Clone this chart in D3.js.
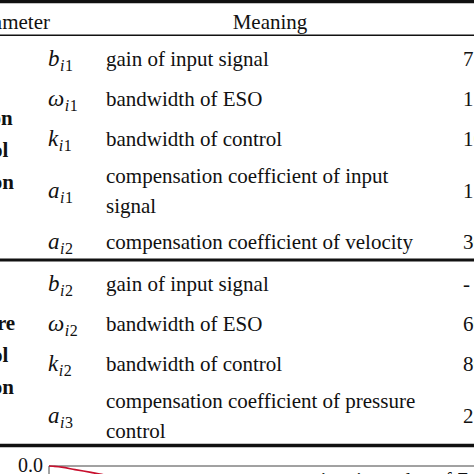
<!doctype html>
<html>
  <head>
    <script src="https://cdn.jsdelivr.net/npm/d3@7"></script>
    <style>
      body { margin: 0; background: #fff; }
      svg { display: block; font-family: 'Liberation Serif', 'Times New Roman', serif; }
    </style>
  </head>
  <body>
    <svg id="table" width="474" height="474" viewBox="0 0 474 474"></svg>

    <script>
      // table content
      var headers = ["Parameter", "Meaning"];
      var groupLabels = [["Position", "control", "function"], ["Pressure", "control", "function"]];
      var groupOf = [0, 0, 0, 0, 0, 1, 1, 1, 1];
      var symbols = ["b", "ω", "k", "a", "a", "b", "ω", "k", "a"];
      var subIndex = ["1", "1", "1", "1", "2", "2", "2", "2", "3"];
      var meanings = [
        ["gain of input signal"],
        ["bandwidth of ESO"],
        ["bandwidth of control"],
        ["compensation coefficient of input", "signal"],
        ["compensation coefficient of velocity"],
        ["gain of input signal"],
        ["bandwidth of ESO"],
        ["bandwidth of control"],
        ["compensation coefficient of pressure", "control"]
      ];
      var values = ["7.5", "150", "10", "1.2", "30", "-", "600", "80", "25"];

      // start of the next figure (cut by the crop)
      var curveT = [0, 0.1, 0.3, 0.62, 1.0, 1.21, 1.6];
      var curveZ = [0, -0.004, -0.014, -0.045, -0.08, -0.1, -0.15];

      var svg = d3.select("#table");
      var font = "'Liberation Serif', 'Times New Roman', serif";
      var ink = "#111";

      // vertical layout: rows in units of one single-line row
      var unit = d3.scaleLinear().domain([0, 1]).range([0, 40]);
      var groupTop = [36, 261];
      var rowUnits = meanings.map(m => m.length > 1 ? 1.575 : 1);
      var rowTop = [];
      var cursor = [groupTop[0], groupTop[1]];
      rowUnits.forEach(function(u, i) {
        var g = groupOf[i];
        rowTop.push(cursor[g]);
        cursor[g] += unit(u);
      });
      var rowMid = rowTop.map((t, i) => t + unit(rowUnits[i]) / 2);

      var x = d3.scaleOrdinal()
        .domain(["group", "param", "symbol", "meaning", "value"])
        .range([-23.5, 50, 48, 106, 463]);

      // rules
      var rules = [
        { y: 1.5, w: 3.5 },
        { y: 35.25, w: 1.5 },
        { y: 260, w: 3 },
        { y: 445.5, w: 3.5 }
      ];
      svg.append("g").selectAll("line")
        .data(rules)
        .enter()
        .append("line")
        .attr("x1", 0).attr("x2", 474)
        .attr("y1", d => d.y).attr("y2", d => d.y)
        .attr("stroke", ink)
        .attr("stroke-width", d => d.w);

      // header
      svg.append("text")
        .attr("x", x("param")).attr("y", 29)
        .attr("text-anchor", "end")
        .attr("font-family", font).attr("font-size", 21).attr("fill", ink)
        .text(headers[0]);
      svg.append("text")
        .attr("x", 270).attr("y", 29)
        .attr("text-anchor", "middle")
        .attr("font-family", font).attr("font-size", 21).attr("fill", ink)
        .text(headers[1]);

      // group labels (bold, mostly cut off on the left)
      var groupMid = [(groupTop[0] + 259) / 2, (groupTop[1] + 444) / 2];
      groupLabels.forEach(function(lines, g) {
        svg.append("g").selectAll("text")
          .data(lines)
          .enter()
          .append("text")
          .attr("x", x("group"))
          .attr("y", (d, j) => groupMid[g] + 9.5 + (j - 1) * 32)
          .attr("text-anchor", "middle")
          .attr("font-family", font).attr("font-size", 21)
          .attr("font-weight", "bold").attr("fill", ink)
          .text(d => d);
      });

      // symbols: italic letter, italic i and upright digit as subscript
      var sym = svg.append("g").selectAll("text")
        .data(symbols)
        .enter()
        .append("text")
        .attr("x", x("symbol"))
        .attr("y", (d, i) => rowMid[i] + 10)
        .attr("font-family", font).attr("font-size", 23)
        .attr("fill", ink);
      sym.append("tspan").attr("font-style", "italic").text(d => d);
      sym.append("tspan")
        .attr("dy", 5)
        .attr("dx", 0.5)
        .attr("font-size", 16)
        .attr("font-style", "italic")
        .text("i");
      sym.append("tspan")
        .attr("dx", 0.5)
        .attr("font-size", 16)
        .text((d, i) => subIndex[i]);

      // meanings
      meanings.forEach(function(lines, i) {
        svg.append("g").selectAll("text")
          .data(lines)
          .enter()
          .append("text")
          .attr("x", x("meaning"))
          .attr("y", (d, j) => rowMid[i] + 10 + (j - (lines.length - 1) / 2) * 30)
          .attr("font-family", font).attr("font-size", 21).attr("fill", ink)
          .text(d => d);
      });

      // values (cut off on the right)
      svg.append("g").selectAll("text")
        .data(values)
        .enter()
        .append("text")
        .attr("x", x("value"))
        .attr("y", (d, i) => rowMid[i] + 10)
        .attr("font-family", font).attr("font-size", 21).attr("fill", ink)
        .text(d => d);

      // next figure: axis frame, tick label and red curve
      var fx = d3.scaleLinear().domain([0, 10]).range([49, 469]);
      var fy = d3.scaleLinear().domain([0, -0.5]).range([466, 506]);
      var plot = svg.append("g");
      plot.append("path")
        .attr("d", "M" + fx(0) + "," + 520 + "V" + fy(0) + "H" + 480)
        .attr("fill", "none")
        .attr("stroke", "#444")
        .attr("stroke-width", 1);
      plot.append("text")
        .attr("x", 43).attr("y", 472)
        .attr("text-anchor", "end")
        .attr("font-family", font).attr("font-size", 20).attr("fill", ink)
        .text(d3.format(".1f")(0));
      plot.append("path")
        .datum(curveT.map((t, i) => [t, curveZ[i]]))
        .attr("fill", "none")
        .attr("stroke", "#c8102e")
        .attr("stroke-width", 1.6)
        .attr("d", d3.line().x(d => fx(d[0])).y(d => fy(d[1])).curve(d3.curveMonotoneX));
      plot.append("text")
        .attr("x", 469).attr("y", 487)
        .attr("text-anchor", "end")
        .attr("font-family", font).attr("font-size", 20).attr("fill", ink)
        .text("estimation value of Z");
    </script>
  </body>
</html>
